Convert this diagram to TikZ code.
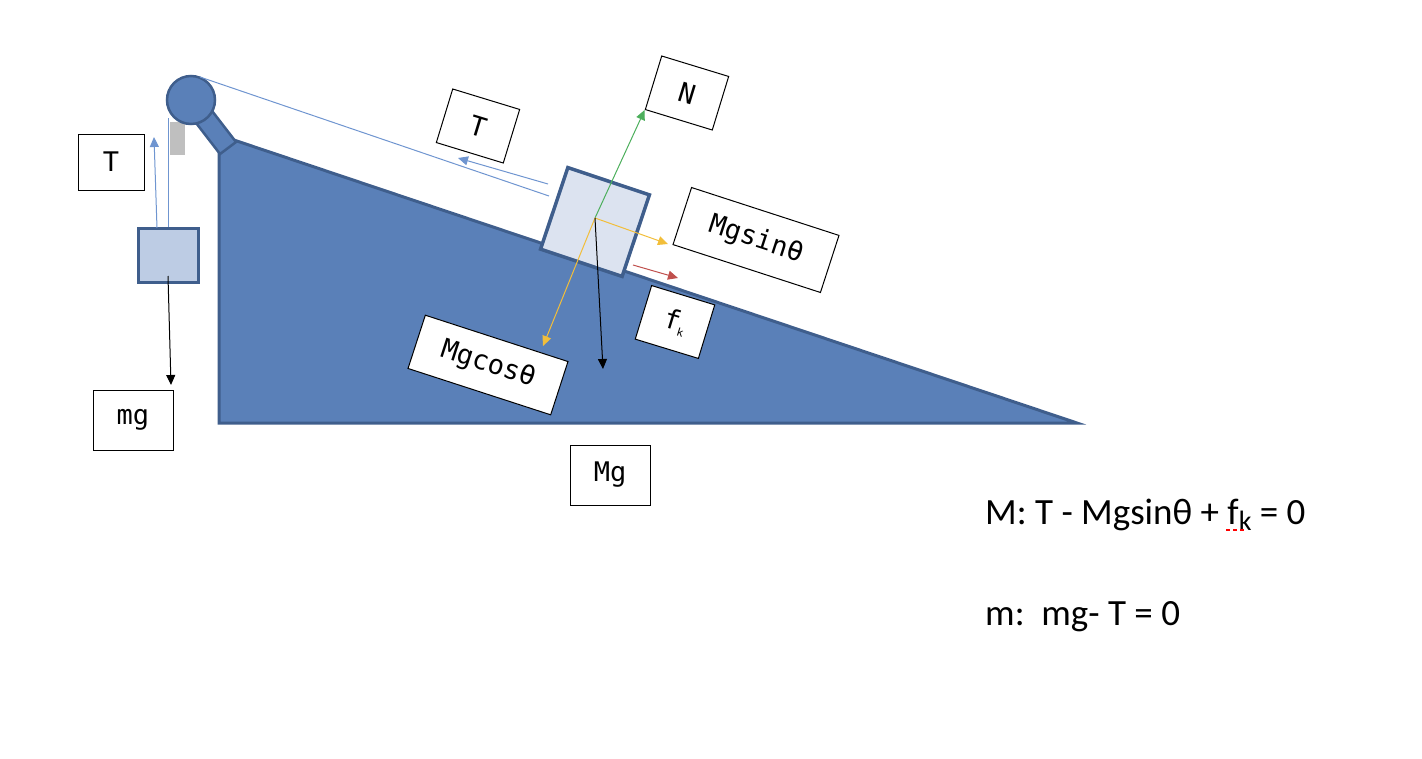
\documentclass[tikz,border=0pt]{standalone}
\usepackage{fontspec}
\setmainfont{Carlito}
\newfontfamily\lbl{DejaVu Sans Mono}
\usetikzlibrary{arrows.meta}
\definecolor{wedge}{HTML}{5A80B8}
\definecolor{wedgeb}{HTML}{3F5E8C}
\definecolor{lblue}{HTML}{BDCCE4}
\definecolor{vlblue}{HTML}{DCE3F0}
\definecolor{rope}{HTML}{6F95D0}
\definecolor{ngreen}{HTML}{4CAF5C}
\definecolor{fyellow}{HTML}{F2BE3A}
\definecolor{fred}{HTML}{C0504D}
\tikzset{
 lab/.style={draw=black,fill=white,line width=1pt,font=\lbl\fontsize{27}{30}\selectfont,inner sep=0pt},
 force/.style={-{Triangle[length=10pt,width=9pt]},line width=1pt},
 eq/.style={anchor=west,font=\fontsize{37}{42}\selectfont,inner sep=0pt}
}
\begin{document}
\begin{tikzpicture}[x=1pt,y=-1pt]
\useasboundingbox (0,0) rectangle (1422,758);
% wedge
\draw[fill=wedge,draw=wedgeb,line width=3pt] (219,135) -- (219,423) -- (1077,423) -- cycle;
% pulley arm and support
\fill[gray!50] (170,122) rectangle (185,155);
\draw[fill=wedge,draw=wedgeb,line width=2.5pt] (199,94) -- (183,106) -- (220,154) -- (236,142) -- cycle;
\node[circle,fill=wedge,draw=wedgeb,line width=2.5pt,minimum size=48pt,inner sep=0pt] (pul) at (191,100) {};
% hanging block
\node[draw=wedgeb,fill=lblue,line width=3pt,minimum width=60pt,minimum height=54pt,inner sep=0pt] (m) at (168,255) {};
\coordinate (ps) at (168,118);
\draw[rope,line width=1pt] (ps) -- (m.north);
% sliding block
\node[draw=wedgeb,fill=vlblue,line width=3.5pt,minimum size=86pt,inner sep=0pt,rotate=-18.5] (M) at (595,222) {};
\coordinate (pt) at (200,77);
\coordinate (rp) at (549,196);
\draw[rope,line width=1pt] (pt) -- (rp);
% labels
\node[lab,minimum width=66pt,minimum height=56pt] (lT) at (111,162) {T};
\node[lab,minimum width=80pt,minimum height=60pt] (lmg) at (133,420) {mg};
\node[lab,minimum width=80pt,minimum height=60pt] (lMg) at (610,475) {Mg};
\node[lab,minimum width=70pt,minimum height=56pt,rotate=-17] (lT2) at (478,126) {T};
\node[lab,minimum width=70pt,minimum height=56pt,rotate=-17] (lN) at (687,93) {N};
\node[lab,minimum width=155pt,minimum height=60pt,rotate=-18] (lsin) at (756,240) {Mgsinθ};
\node[lab,minimum width=66pt,minimum height=56pt,rotate=-17] (lfk) at (675,322) {f\raisebox{-5pt}{\fontsize{11}{11}\selectfont k}};
\node[lab,minimum width=150pt,minimum height=56pt,rotate=-18] (lcos) at (488,365) {Mgcosθ};
% forces
\coordinate (c) at (595,218);
\coordinate (mt) at (157,228);
\coordinate (mb) at (168,276);
\coordinate (Ta) at (548,184);
\draw[force,rope] (mt) -- (154,137);
\draw[force,black] (mb) -- (171,385);
\draw[force,rope] (Ta) -- (458,158);
\draw[force,ngreen] (c) -- (lN.south west);
\draw[force,fyellow] (c) -- (668,244);
\draw[force,fyellow] (c) -- (543,346);
\draw[force,black] (c) -- (603,369);
\coordinate (fa) at (633,265);
\draw[force,fred] (fa) -- (678,278);
% equations
\node[eq] (e1) at (985,515) {M: T - Mgsinθ + f\raisebox{-6pt}{\fontsize{28}{28}\selectfont k} = 0};
\draw[red,line width=2pt,dash pattern=on 4pt off 3pt] (1226,530) -- (1246,530);
\node[eq] (e2) at (985,617) {m:\ \ mg- T = 0};
\end{tikzpicture}
\end{document}
